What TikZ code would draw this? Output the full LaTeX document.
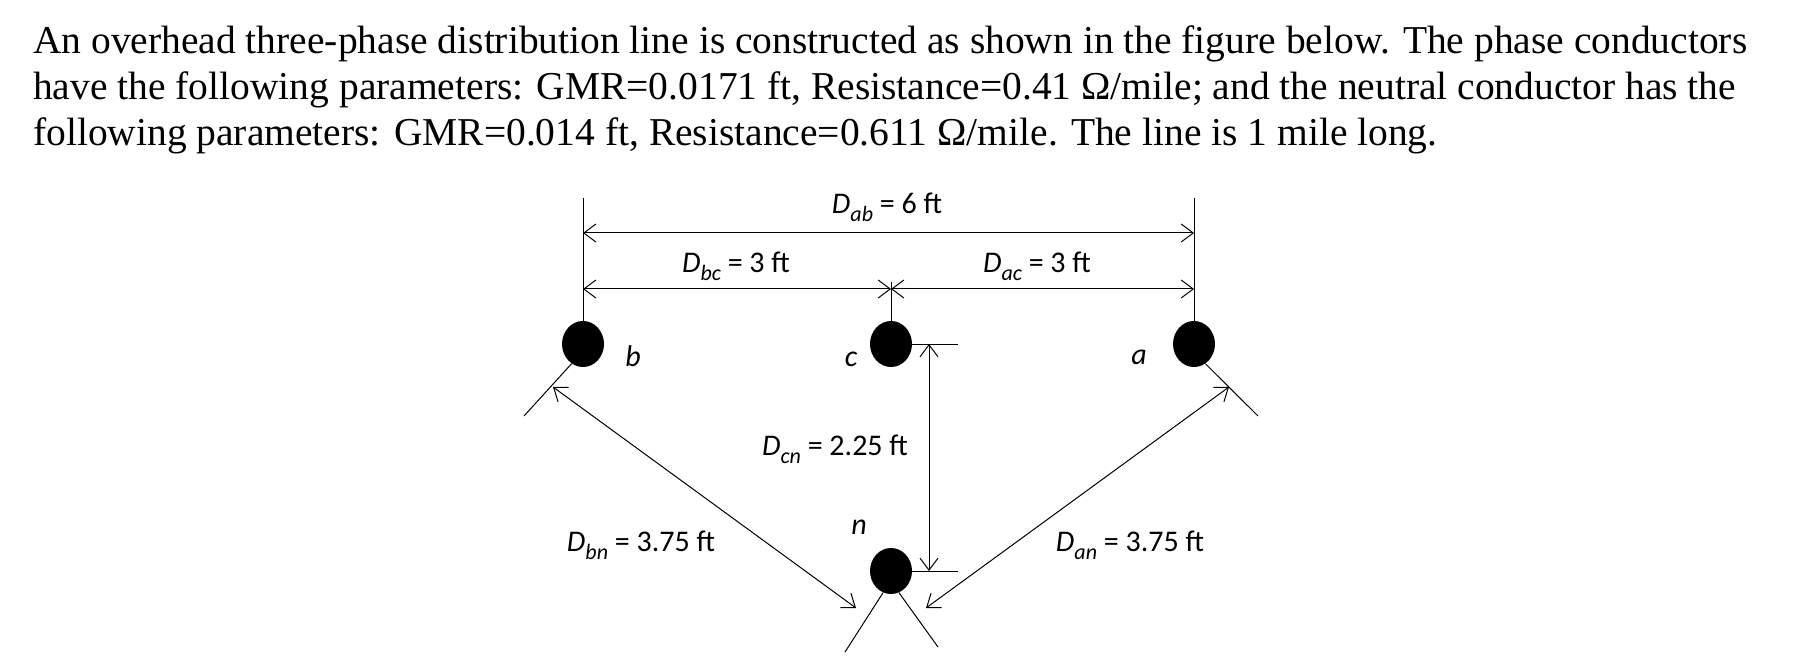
\documentclass[tikz,border=0pt]{standalone}
\usepackage{fontspec}
\setmainfont{Liberation Serif}
\newfontfamily\lab{Carlito}
\usetikzlibrary{arrows.meta,shapes.geometric}
\newcommand{\Dsub}[1]{\textit{D}\raisebox{-0.28em}{\fontsize{22}{22}\selectfont\itshape #1}}
\begin{document}
\begin{tikzpicture}[x=1pt,y=-1pt,
  cond/.style={ellipse,fill=black,minimum width=42pt,minimum height=46pt,inner sep=0pt},
  para/.style={anchor=west,inner sep=0pt,font=\fontsize{39.5}{46}\selectfont},
  lbl/.style={inner sep=0pt,font=\lab\fontsize{30}{34}\selectfont},
  thin/.style={line width=1pt},
  dim/.style={line width=1pt,{Straight Barb[length=12pt,width=18pt]}-{Straight Barb[length=12pt,width=18pt]}},
  ]
\useasboundingbox (0,0) rectangle (1818,660);
\node[para] (t1) at (33,44) {An overhead three-phase distribution line is constructed as shown in the figure below. The phase conductors};
\node[para] (t2) at (33,90) {have the following parameters: GMR=0.0171 ft, Resistance=0.41 Ω/mile; and the neutral conductor has the};
\node[para] (t3) at (33,136) {following parameters: GMR=0.014 ft, Resistance=0.611 Ω/mile. The line is 1 mile long.};

\node[cond] (b) at (583,344) {};
\node[cond] (c) at (891,344) {};
\node[cond] (a) at (1194,344) {};
\node[cond] (n) at (891,571) {};

\coordinate (bt) at (583,198);
\coordinate (at) at (1194,198);
\coordinate (ct) at (891,282);
\draw[thin] (bt) -- (b.north);
\draw[thin] (at) -- (a.north);
\draw[thin] (ct) -- (c.north);

\coordinate (ab1) at (583,233); \coordinate (ab2) at (1194,233);
\draw[dim] (ab1) -- (ab2);
\coordinate (bc1) at (583,289); \coordinate (bc2) at (891,289); \coordinate (ac2) at (1194,289);
\draw[dim] (bc1) -- (bc2);
\draw[dim] (bc2) -- (ac2);

\node[lbl] (lab) at (887,207) {\Dsub{ab} = 6 ft};
\node[lbl] (lbc) at (736,266) {\Dsub{bc} = 3 ft};
\node[lbl] (lac) at (1037,266) {\Dsub{ac} = 3 ft};

\coordinate (ctk) at (958,344);
\coordinate (ntk) at (958,571);
\draw[thin] (c.east) -- (ctk);
\draw[thin] (n.east) -- (ntk);
\coordinate (cn1) at (929,344); \coordinate (cn2) at (929,571);
\draw[dim] (cn1) -- (cn2);
\node[lbl] (lcn) at (835,449) {\Dsub{cn} = 2.25 ft};

\node[lbl] (lb) at (633,356) {\itshape b};
\node[lbl] (lc) at (851,359) {\itshape c};
\node[lbl] (la) at (1139,357) {\itshape a};
\node[lbl] (ln) at (859,527) {\itshape n};

\coordinate (bl) at (524,416);
\coordinate (al) at (1258,416);
\coordinate (nl) at (845,652);
\coordinate (nr) at (938,647);
\draw[thin] (b.-120) -- (bl);
\draw[thin] (a.-60) -- (al);
\draw[thin] (n.-110) -- (nl);
\draw[thin] (n.-70) -- (nr);

\coordinate (bn1) at (553,387); \coordinate (bn2) at (856,608);
\coordinate (an1) at (1229,387); \coordinate (an2) at (926,608);
\draw[dim] (bn1) -- (bn2);
\draw[dim] (an1) -- (an2);
\node[lbl] (lbn) at (641,545) {\Dsub{bn} = 3.75 ft};
\node[lbl] (lan) at (1130,545) {\Dsub{an} = 3.75 ft};
\end{tikzpicture}
\end{document}
